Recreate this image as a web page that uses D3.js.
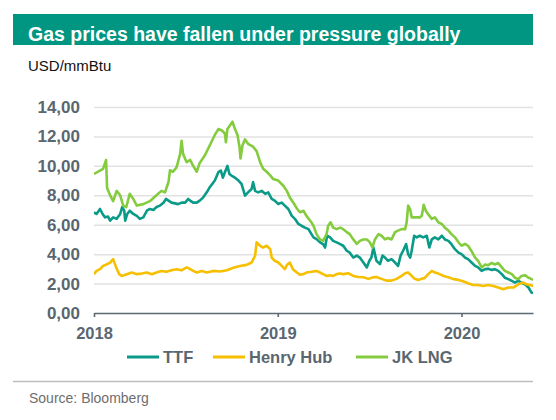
<!DOCTYPE html>
<html>
<head>
<meta charset="utf-8">
<script src="https://cdn.jsdelivr.net/npm/d3@7/dist/d3.min.js"></script>
<style>
  html, body { margin: 0; padding: 0; background: #fff; }
  svg { display: block; font-family: "Liberation Sans", Arial, Helvetica, sans-serif; }
</style>
</head>
<body>
<svg id="chart" width="556" height="420"></svg>
<script>
const title = "Gas prices have fallen under pressure globally";
const unitLabel = "USD/mmBtu";
const sourceLabel = "Source: Bloomberg";
const seriesNames = ["TTF", "Henry Hub", "JK LNG"];
const yTicks = [0, 2, 4, 6, 8, 10, 12, 14];
const xTickYears = ["2018-01-01", "2019-01-01", "2020-01-01"];
const xDomain = ["2018-01-01", "2020-05-22"];

const ttf = [
["2018-01-01",6.84],["2018-01-06",6.73],["2018-01-13",7.07],["2018-01-18",6.73],["2018-01-23",6.5],
["2018-01-29",6.55],["2018-02-02",6.27],["2018-02-08",6.5],["2018-02-15",6.4],["2018-02-22",6.73],
["2018-02-26",7.2],["2018-03-02",6.95],["2018-03-04",6.27],["2018-03-08",6.73],["2018-03-13",6.95],
["2018-03-20",6.73],["2018-03-27",6.6],["2018-04-02",6.4],["2018-04-09",6.5],["2018-04-16",6.95],
["2018-04-22",7.07],["2018-04-29",7.0],["2018-05-05",7.2],["2018-05-12",7.3],["2018-05-19",7.5],
["2018-05-24",7.75],["2018-05-29",7.64],["2018-06-04",7.5],["2018-06-11",7.45],["2018-06-17",7.4],
["2018-06-24",7.5],["2018-07-01",7.5],["2018-07-07",7.75],["2018-07-11",7.64],["2018-07-17",7.5],
["2018-07-24",7.5],["2018-07-30",7.64],["2018-08-06",7.86],["2018-08-13",8.2],["2018-08-19",8.55],
["2018-08-29",9.0],["2018-09-05",9.57],["2018-09-10",9.68],["2018-09-14",9.2],["2018-09-18",9.57],
["2018-09-23",10.0],["2018-09-27",9.45],["2018-10-01",9.34],["2018-10-08",9.2],["2018-10-15",9.0],
["2018-10-21",8.77],["2018-10-28",7.98],["2018-11-03",8.2],["2018-11-10",8.43],["2018-11-13",8.89],
["2018-11-17",8.3],["2018-11-23",8.2],["2018-11-30",8.3],["2018-12-07",8.1],["2018-12-13",8.2],
["2018-12-20",7.75],["2018-12-26",7.64],["2019-01-02",7.41],["2019-01-09",7.5],["2019-01-15",7.3],
["2019-01-22",7.07],["2019-01-29",6.6],["2019-02-04",6.4],["2019-02-11",6.05],["2019-02-17",5.93],
["2019-02-24",5.8],["2019-03-03",5.7],["2019-03-09",5.36],["2019-03-13",5.14],["2019-03-19",5.02],
["2019-03-26",4.8],["2019-04-01",4.68],["2019-04-05",4.45],["2019-04-09",5.25],["2019-04-15",5.14],
["2019-04-21",4.9],["2019-04-28",4.8],["2019-05-05",4.68],["2019-05-11",4.57],["2019-05-18",4.23],
["2019-05-24",4.1],["2019-05-31",3.77],["2019-06-07",3.9],["2019-06-13",3.77],["2019-06-20",3.43],
["2019-06-27",3.1],["2019-07-02",3.55],["2019-07-06",3.77],["2019-07-10",4.45],["2019-07-13",4.0],
["2019-07-16",3.55],["2019-07-23",3.32],["2019-07-28",3.9],["2019-08-02",3.77],["2019-08-08",3.55],
["2019-08-15",3.66],["2019-08-22",3.43],["2019-08-28",3.2],["2019-09-02",3.9],["2019-09-07",4.23],
["2019-09-13",4.68],["2019-09-17",4.0],["2019-09-21",3.77],["2019-09-24",4.23],["2019-09-29",5.25],
["2019-10-04",5.14],["2019-10-10",5.25],["2019-10-17",5.14],["2019-10-24",5.25],["2019-10-29",4.45],
["2019-11-03",5.0],["2019-11-09",5.14],["2019-11-16",5.0],["2019-11-23",5.25],["2019-11-29",5.0],
["2019-12-06",4.9],["2019-12-12",4.68],["2019-12-19",4.34],["2019-12-26",4.1],["2020-01-01",4.0],
["2020-01-08",3.77],["2020-01-14",3.66],["2020-01-21",3.43],["2020-01-28",3.2],["2020-02-03",3.1],
["2020-02-10",2.86],["2020-02-17",2.98],["2020-02-23",3.0],["2020-03-01",2.93],["2020-03-07",2.98],
["2020-03-14",2.86],["2020-03-21",2.64],["2020-03-27",2.4],["2020-04-03",2.3],["2020-04-10",2.18],
["2020-04-16",2.07],["2020-04-23",2.18],["2020-04-29",2.07],["2020-05-06",1.95],["2020-05-13",1.73],
["2020-05-19",1.39],["2020-05-22",1.35]
];

const henryHub = [
["2018-01-01",2.64],["2018-01-06",2.86],["2018-01-13",2.98],["2018-01-19",3.2],["2018-01-26",3.3],
["2018-02-02",3.43],["2018-02-08",3.66],["2018-02-14",3.1],["2018-02-20",2.64],["2018-02-25",2.52],
["2018-03-07",2.64],["2018-03-17",2.75],["2018-03-27",2.64],["2018-04-06",2.68],["2018-04-16",2.75],
["2018-04-26",2.64],["2018-05-05",2.75],["2018-05-15",2.86],["2018-05-25",2.8],["2018-06-04",2.9],
["2018-06-14",2.98],["2018-06-24",2.9],["2018-07-04",3.1],["2018-07-11",2.98],["2018-07-17",2.86],
["2018-07-24",2.75],["2018-08-03",2.86],["2018-08-13",2.75],["2018-08-26",2.86],["2018-09-08",2.82],
["2018-09-22",2.9],["2018-10-05",3.07],["2018-10-18",3.2],["2018-10-31",3.27],["2018-11-10",3.43],
["2018-11-17",3.89],["2018-11-20",4.8],["2018-11-27",4.57],["2018-12-03",4.45],["2018-12-10",4.57],
["2018-12-17",4.34],["2018-12-20",3.77],["2018-12-26",3.55],["2019-01-02",3.43],["2019-01-09",3.2],
["2019-01-15",2.98],["2019-01-20",3.3],["2019-01-25",3.43],["2019-01-31",2.98],["2019-02-08",2.75],
["2019-02-14",2.6],["2019-02-21",2.64],["2019-02-27",2.75],["2019-03-09",2.8],["2019-03-19",2.86],
["2019-03-26",2.75],["2019-04-01",2.64],["2019-04-08",2.52],["2019-04-15",2.57],["2019-04-21",2.52],
["2019-04-28",2.64],["2019-05-05",2.68],["2019-05-11",2.64],["2019-05-21",2.7],["2019-05-31",2.52],
["2019-06-10",2.45],["2019-06-20",2.43],["2019-06-30",2.32],["2019-07-10",2.43],["2019-07-16",2.45],
["2019-07-26",2.32],["2019-08-05",2.2],["2019-08-15",2.2],["2019-08-25",2.32],["2019-09-04",2.52],
["2019-09-11",2.7],["2019-09-17",2.75],["2019-09-24",2.52],["2019-09-30",2.32],["2019-10-07",2.25],
["2019-10-14",2.32],["2019-10-20",2.38],["2019-10-27",2.64],["2019-11-03",2.86],["2019-11-09",2.75],
["2019-11-16",2.68],["2019-11-26",2.52],["2019-12-06",2.43],["2019-12-16",2.3],["2019-12-26",2.25],
["2020-01-04",2.16],["2020-01-14",2.02],["2020-01-24",1.9],["2020-02-03",1.9],["2020-02-13",1.84],
["2020-02-23",1.9],["2020-03-04",1.84],["2020-03-14",1.73],["2020-03-24",1.61],["2020-04-03",1.73],
["2020-04-13",1.73],["2020-04-23",1.95],["2020-05-03",2.07],["2020-05-09",1.95],["2020-05-16",1.9],
["2020-05-22",1.84]
];

const jkLng = [
["2018-01-01",9.45],["2018-01-19",9.8],["2018-01-25",10.4],["2018-01-27",8.5],["2018-02-02",8.0],
["2018-02-08",7.6],["2018-02-15",8.3],["2018-02-22",8.0],["2018-02-28",7.3],["2018-03-06",7.2],
["2018-03-13",8.1],["2018-03-20",7.75],["2018-03-27",7.3],["2018-04-09",7.4],["2018-04-22",7.6],
["2018-05-05",8.0],["2018-05-15",8.3],["2018-05-22",8.2],["2018-05-29",8.9],["2018-06-01",9.7],
["2018-06-07",9.6],["2018-06-14",9.9],["2018-06-21",10.8],["2018-06-24",11.7],["2018-06-27",10.8],
["2018-07-04",10.25],["2018-07-11",10.4],["2018-07-17",10.0],["2018-07-24",9.6],["2018-07-30",10.2],
["2018-08-09",10.7],["2018-08-19",11.4],["2018-08-29",12.1],["2018-09-05",12.5],["2018-09-12",12.4],
["2018-09-18",12.2],["2018-09-20",11.6],["2018-09-23",12.5],["2018-09-28",12.75],["2018-10-03",13.0],
["2018-10-08",12.5],["2018-10-13",12.1],["2018-10-17",11.3],["2018-10-19",10.5],["2018-10-23",11.4],
["2018-10-28",11.8],["2018-11-03",11.5],["2018-11-13",11.3],["2018-11-20",11.0],["2018-11-27",10.25],
["2018-12-03",9.8],["2018-12-10",9.6],["2018-12-17",9.35],["2018-12-23",9.1],["2019-01-02",9.0],
["2019-01-12",8.65],["2019-01-19",8.3],["2019-01-25",7.85],["2019-02-01",7.5],["2019-02-08",7.1],
["2019-02-14",6.85],["2019-02-21",6.95],["2019-02-27",6.6],["2019-03-09",6.15],["2019-03-13",5.93],
["2019-03-19",5.36],["2019-03-26",5.0],["2019-04-01",4.9],["2019-04-08",5.36],["2019-04-11",5.93],
["2019-04-16",6.16],["2019-04-21",5.8],["2019-04-28",5.7],["2019-05-05",5.8],["2019-05-11",5.7],
["2019-05-18",5.5],["2019-05-24",5.36],["2019-05-31",5.0],["2019-06-07",4.7],["2019-06-13",4.9],
["2019-06-20",5.0],["2019-06-27",5.0],["2019-07-03",4.8],["2019-07-08",4.45],["2019-07-13",5.0],
["2019-07-20",5.36],["2019-07-26",5.25],["2019-08-02",5.0],["2019-08-08",5.1],["2019-08-15",5.0],
["2019-08-22",5.5],["2019-08-28",5.6],["2019-09-04",5.7],["2019-09-11",5.7],["2019-09-14",6.16],
["2019-09-17",7.3],["2019-09-21",7.05],["2019-09-24",6.5],["2019-09-30",6.5],["2019-10-07",6.5],
["2019-10-10",6.5],["2019-10-14",6.6],["2019-10-18",7.35],["2019-10-22",6.95],["2019-10-27",6.7],
["2019-11-03",6.4],["2019-11-09",6.5],["2019-11-16",6.16],["2019-11-23",6.05],["2019-11-29",5.8],
["2019-12-06",5.6],["2019-12-12",5.36],["2019-12-19",5.14],["2019-12-26",4.8],["2020-01-01",4.57],
["2020-01-08",4.7],["2020-01-14",4.57],["2020-01-21",4.2],["2020-01-28",3.77],["2020-02-03",3.55],
["2020-02-10",3.1],["2020-02-17",3.3],["2020-02-23",3.25],["2020-03-01",3.4],["2020-03-07",3.3],
["2020-03-14",3.4],["2020-03-21",3.1],["2020-03-27",2.86],["2020-04-03",2.75],["2020-04-10",2.64],
["2020-04-16",2.4],["2020-04-23",2.3],["2020-04-29",2.52],["2020-05-06",2.57],["2020-05-13",2.4],
["2020-05-19",2.3],["2020-05-22",2.25]
];

const colors = { "TTF": "#0a9a88", "Henry Hub": "#f6bf00", "JK LNG": "#84cc3e" };
const seriesData = { "TTF": ttf, "Henry Hub": henryHub, "JK LNG": jkLng };

const parse = d3.timeParse("%Y-%m-%d");
const svg = d3.select("#chart");

// Title bar
svg.append("rect").attr("x", 13).attr("y", 14).attr("width", 520).attr("height", 31).attr("fill", "#009681");
svg.append("text").attr("x", 28).attr("y", 41).attr("fill", "#fff")
  .attr("font-size", "19.5px").attr("font-weight", "bold").text(title);
svg.append("text").attr("x", 28).attr("y", 71).attr("fill", "#111")
  .attr("font-size", "15px").text(unitLabel);

const plotLeft = 94, plotRight = 533, plotTop = 107, plotBottom = 313;
const x = d3.scaleTime().domain(xDomain.map(parse)).range([plotLeft, plotRight]);
const y = d3.scaleLinear().domain([0, 14]).range([plotBottom, plotTop]);

const tickColor = "#5a6670";

// Gridlines
const yAxis = d3.axisLeft(y).tickValues(yTicks).tickSize(-(plotRight - plotLeft))
  .tickFormat(d => d3.format(".2f")(d).replace(".", ","));
const gy = svg.append("g").attr("transform", `translate(${plotLeft},0)`).call(yAxis);
gy.select(".domain").remove();
gy.selectAll(".tick line").attr("stroke", "#e2e2e2").attr("stroke-width", 1.5)
  .filter(d => d === 0).remove();
gy.selectAll(".tick text").attr("x", -14).attr("fill", tickColor)
  .attr("font-size", "17px").attr("font-weight", "bold")
  .attr("font-family", "'Liberation Sans', Arial, sans-serif");

// Lines
const clipId = "plotclip";
svg.append("clipPath").attr("id", clipId).append("rect")
  .attr("x", plotLeft).attr("y", plotTop - 10).attr("width", plotRight - plotLeft).attr("height", plotBottom - plotTop + 10);
const line = d3.line().x(d => x(parse(d[0]))).y(d => y(d[1]));
const plot = svg.append("g").attr("clip-path", `url(#${clipId})`);
seriesNames.forEach(name => {
  plot.append("path").datum(seriesData[name])
    .attr("fill", "none").attr("stroke", colors[name]).attr("stroke-width", 2.6)
    .attr("stroke-linejoin", "round").attr("d", line);
});

// X axis
const xAxis = d3.axisBottom(x).tickValues(xTickYears.map(parse)).tickSize(4).tickSizeOuter(0)
  .tickFormat(d3.timeFormat("%Y"));
const gx = svg.append("g").attr("transform", `translate(0,${plotBottom})`).call(xAxis);
gx.select(".domain").attr("stroke", "#5d6a72").attr("stroke-width", 1.6);
gx.selectAll(".tick line").attr("stroke", "#5d6a72").attr("stroke-width", 1.6);
gx.selectAll(".tick text").attr("y", 14).attr("dy", "0.71em").attr("fill", tickColor)
  .attr("font-size", "16.5px").attr("font-weight", "bold")
  .attr("font-family", "'Liberation Sans', Arial, sans-serif");

// Legend
const legendPos = [127, 213, 356];
const legend = svg.append("g");
seriesNames.forEach((name, i) => {
  const lx = legendPos[i];
  legend.append("line").attr("x1", lx).attr("x2", lx + 32).attr("y1", 357).attr("y2", 357)
    .attr("stroke", colors[name]).attr("stroke-width", 3);
  legend.append("text").attr("x", lx + 36).attr("y", 363).attr("fill", tickColor)
    .attr("font-size", "16.5px").attr("font-weight", "bold").text(name);
});

// Separator and source
svg.append("line").attr("x1", 13).attr("x2", 533).attr("y1", 381.5).attr("y2", 381.5)
  .attr("stroke", "#bdbdbd").attr("stroke-width", 1.3);
svg.append("text").attr("x", 29).attr("y", 403).attr("fill", "#6e6e6e")
  .attr("font-size", "14px").text(sourceLabel);
</script>
</body>
</html>
